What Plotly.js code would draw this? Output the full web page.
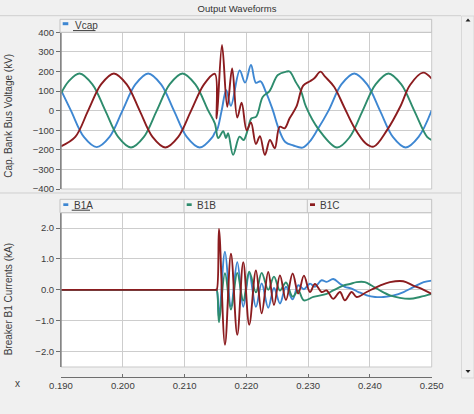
<!DOCTYPE html>
<html><head><meta charset="utf-8">
<script src="https://cdn.plot.ly/plotly-3.0.1.min.js"></script>
<style>html,body{margin:0;padding:0;background:#f0f0f0;overflow:hidden}#chart{width:474px;height:414px}</style>
</head><body><div id="chart"></div>
<script>
// ---------- data ----------
const xTickVals = [0.19, 0.20, 0.21, 0.22, 0.23, 0.24, 0.25];
const vTickVals = [-400, -300, -200, -100, 0, 100, 200, 300, 400];
const iTickVals = [-2, -1, 0, 1, 2];

// Cap. bank bus voltage (kV)
const tVcapA = [0.19000,0.19161,0.19370,0.19578,0.19786,0.19995,0.20203,0.20411,0.20620,0.20828,0.21036,0.21245,0.21453,0.21490,0.21530,0.21600,0.21675,0.21750,0.21892,0.21980,0.22075,0.22155,0.22230,0.22310,0.22420,0.22530,0.22630,0.22760,0.22910,0.23020,0.23150,0.23330,0.23538,0.23747,0.23955,0.24163,0.24371,0.24579,0.24788,0.25000];
const vcapA  = [105,0,-134,-186,-134,0,134,190,134,0,-134,-188,-134,-112,-95,0,105,25,205,143,233,142,150,100,10,-98,-160,-178,-189,-160,-98,0,134,190,134,0,-134,-188,-134,2];

const tVcapB = [0.19000,0.19130,0.19300,0.19508,0.19717,0.19925,0.20133,0.20342,0.20550,0.20758,0.20967,0.21175,0.21383,0.21490,0.21545,0.21625,0.21670,0.21705,0.21785,0.21890,0.21955,0.22025,0.22080,0.22160,0.22265,0.22375,0.22510,0.22645,0.22700,0.22805,0.22885,0.22965,0.23175,0.23467,0.23675,0.23883,0.24092,0.24300,0.24508,0.24717,0.24925,0.25000];
const vcapB  = [88,152,190,134,0,-134,-188,-134,0,134,190,134,0,-65,-140,-105,-140,-115,-226,-133,-150,-95,-40,-30,70,100,182,199,200,143,100,20,-98,-188,-134,0,134,190,134,0,-134,-150];

const tVcapC = [0.19000,0.19231,0.19439,0.19648,0.19856,0.20064,0.20273,0.20481,0.20689,0.20898,0.21106,0.21314,0.21490,0.21520,0.21606,0.21691,0.21770,0.21853,0.21924,0.22005,0.22074,0.22155,0.22220,0.22300,0.22382,0.22460,0.22540,0.22620,0.22700,0.22810,0.22920,0.23030,0.23100,0.23200,0.23270,0.23420,0.23580,0.23740,0.23930,0.24060,0.24280,0.24490,0.24650,0.24860,0.25000];
const vcapC  = [-182,-134,0,134,190,134,0,-134,-188,-134,0,134,188,-40,335,20,215,-35,40,-100,-60,-170,-130,-226,-150,-192,-82,-90,-39,20,128,150,165,199,175,122,20,-82,-166,-184,-98,20,131,194,163];

// Breaker B1 currents (kA)
const tB1A = [0.19000,0.21500,0.21520,0.21557,0.21654,0.21751,0.21853,0.21950,0.22047,0.22155,0.22248,0.22354,0.22447,0.22544,0.22641,0.22749,0.22840,0.22932,0.23029,0.23110,0.23218,0.23299,0.23406,0.23515,0.23595,0.23704,0.23815,0.23950,0.24085,0.24220,0.24385,0.24545,0.24705,0.24870,0.25000];
const b1A  = [0,0,0,-0.91,1.24,-0.54,0.90,-0.55,0.54,-0.55,0.21,-0.58,0.06,-0.44,0.10,-0.31,0.15,0.02,0.20,0.10,0.31,0.26,0.35,0.20,0.10,0.04,-0.07,-0.18,-0.23,-0.23,-0.18,-0.07,0.09,0.25,0.30];

const tB1B = [0.19000,0.21500,0.21520,0.21557,0.21654,0.21751,0.21853,0.21950,0.22047,0.22155,0.22248,0.22354,0.22447,0.22544,0.22641,0.22749,0.22840,0.22932,0.23085,0.23300,0.23406,0.23568,0.23676,0.23785,0.23919,0.24027,0.24162,0.24324,0.24485,0.24647,0.24809,0.25000];
const b1B  = [0,0,0,-1.05,0.54,-0.64,0.55,-0.35,0.59,-0.08,0.55,0.00,0.43,-0.02,0.24,-0.22,-0.03,-0.34,-0.23,-0.13,-0.02,0.14,0.19,0.25,0.25,0.14,-0.02,-0.18,-0.26,-0.29,-0.23,-0.13];

const tB1C = [0.19000,0.21500,0.21520,0.21557,0.21654,0.21751,0.21853,0.21950,0.22047,0.22155,0.22248,0.22354,0.22447,0.22544,0.22641,0.22749,0.22840,0.22932,0.23029,0.23110,0.23218,0.23299,0.23406,0.23515,0.23595,0.23704,0.23785,0.23947,0.24162,0.24324,0.24539,0.24701,0.24862,0.25000];
const b1C  = [0,0,0,1.97,-1.78,1.17,-1.46,0.90,-1.13,0.63,-0.76,0.58,-0.49,0.47,-0.33,0.53,-0.12,0.46,-0.07,0.19,-0.07,-0.02,-0.29,-0.07,-0.34,-0.07,-0.23,-0.07,0.14,0.25,0.28,0.14,0.01,-0.13];

// ---------- styling / layout ----------
const W = 474, H = 414;
const BLUE = '#3e87d2', GREEN = '#2e8c6d', RED = '#8b1c1f';
const GRID = '#cdcdcd', AXIS = '#6e6e6e', TXT = '#3c3c3c';
const FONT = 'Liberation Sans, Arial, sans-serif';
const PL = 61, PR = 431.7;              // plot left / right (px)
const TOP = [32.3, 189], BOT = [212.7, 367];
const px = x => x / W, py = y => 1 - y / H;

function rect(x0, y0, x1, y1, fill, line) {
  return {type:'rect', xref:'paper', yref:'paper', x0:px(x0), x1:px(x1), y0:py(y1), y1:py(y0),
          fillcolor:fill, line:{color:line || 'rgba(0,0,0,0)', width:1}, layer:'above'};
}
function seg(x0, y0, x1, y1, color) {
  return {type:'line', xref:'paper', yref:'paper', x0:px(x0), x1:px(x1), y0:py(y0), y1:py(y1),
          line:{color:color, width:1}, layer:'above'};
}
function tri(cx, cy, up) {
  const a = up ? -2 : 2;
  return {type:'path', xref:'paper', yref:'paper', layer:'above', fillcolor:'#222', line:{width:0},
    path:`M ${px(cx-2.5)} ${py(cy-a/2)} L ${px(cx+2.5)} ${py(cy-a/2)} L ${px(cx)} ${py(cy+a)} Z`};
}
function label(x, y, text, opts) {
  return Object.assign({xref:'paper', yref:'paper', x:px(x), y:py(y), text:text, showarrow:false,
    font:{family:FONT, size:10, color:TXT}, xanchor:'left', yanchor:'middle'}, opts || {});
}

function line(t, v, color, xa, ya) {
  return {x:t, y:v, type:'scatter', mode:'lines', xaxis:xa, yaxis:ya, hoverinfo:'skip',
          line:{color:color, width:1.9, shape:'spline', smoothing:1.0}};
}

const traces = [
  line(tVcapA, vcapA, BLUE, 'x', 'y'),
  line(tVcapB, vcapB, GREEN, 'x', 'y'),
  line(tVcapC, vcapC, RED, 'x', 'y'),
  line(tB1A, b1A, BLUE, 'x2', 'y2'),
  line(tB1B, b1B, GREEN, 'x2', 'y2'),
  line(tB1C, b1C, RED, 'x2', 'y2')
];

const tickFont = {family:FONT, size:9.5, color:TXT};
const layout = {
  width:W, height:H, margin:{l:0, r:0, t:0, b:0},
  paper_bgcolor:'#f0f0f0', plot_bgcolor:'#ffffff', showlegend:false,
  font:{family:FONT, color:TXT},
  title:{text:'Output Waveforms', x:237/W, xanchor:'center', y:py(8.5), yanchor:'middle',
         font:{family:FONT, size:9.5, color:'#333'}},
  xaxis:{domain:[px(PL), px(PR)], range:[0.19, 0.25], anchor:'y', tickvals:xTickVals,
         showticklabels:false, ticks:'', showgrid:true, gridcolor:GRID, zeroline:false, showline:false},
  yaxis:{domain:[py(TOP[1]), py(TOP[0])], range:[-400, 400], tickvals:vTickVals, ticks:'outside',
         ticklen:4, tickcolor:AXIS, showline:true, linecolor:AXIS, gridcolor:GRID, zeroline:false,
         tickfont:tickFont},
  xaxis2:{domain:[px(PL), px(PR)], range:[0.19, 0.25], anchor:'free', position:py(376.7),
          tickvals:xTickVals, tickformat:'.3f', ticks:'inside', ticklen:3, tickcolor:AXIS,
          showline:true, linecolor:AXIS, showgrid:true, gridcolor:GRID, zeroline:false, tickfont:tickFont},
  yaxis2:{domain:[py(BOT[1]), py(BOT[0])], range:[-2.5, 2.5], tickvals:iTickVals, tickformat:'.1f',
          ticks:'outside', ticklen:4, tickcolor:AXIS, showline:true, linecolor:AXIS, gridcolor:GRID,
          zeroline:false, tickfont:tickFont},
  shapes:[
    seg(0, 15.7, 461, 15.7, '#cfcfcf'),
    // plot borders
    rect(PL, TOP[0], PR, TOP[1], 'rgba(0,0,0,0)', '#c9c9c9'),
    rect(PL, BOT[0], PR, BOT[1], 'rgba(0,0,0,0)', '#c9c9c9'),
    seg(PL, TOP[0], PL, TOP[1], AXIS), seg(PL, BOT[0], PL, BOT[1], AXIS),
    // separator between panels
    seg(0, 193, 461, 193, '#cfcfcf'),
    // legend bars
    rect(PL - 1, 19.3, PR, 32.3, '#f4f4f4', '#c2c2c2'),
    rect(PL - 1, 199.3, PR, 212.7, '#f4f4f4', '#c2c2c2'),
    seg(184, 199.3, 184, 212.7, '#c2c2c2'), seg(307.3, 199.3, 307.3, 212.7, '#c2c2c2'),
    rect(62.7, 22.2, 68.3, 25.2, BLUE), rect(63.3, 203.3, 68.3, 206, BLUE),
    rect(186.7, 203.3, 191.7, 206, GREEN), rect(310, 203.3, 315, 206, RED),
    seg(73, 30.6, 95.5, 30.6, TXT), seg(71.7, 210.2, 90, 210.2, TXT),
    // scrollbar
    rect(461.5, 16, 474, 378, '#f0f0f0', '#d8d8d8'),
    tri(468, 20.5, true), tri(468, 371, false)
  ],
  annotations:[
    label(73, 25.6, 'Vcap'),
    label(71.5, 205.6, 'B1A'),
    label(195, 205.6, 'B1B'),
    label(318.3, 205.6, 'B1C'),
    label(8.3, 115.5, 'Cap. Bank Bus Voltage (kV)', {textangle:-90, xanchor:'center', yanchor:'middle'}),
    label(8.3, 299, 'Breaker B1 Currents (kA)', {textangle:-90, xanchor:'center', yanchor:'middle'}),
    label(17.5, 383.7, 'x', {xanchor:'center'})
  ]
};

Plotly.newPlot('chart', traces, layout, {staticPlot:true, displayModeBar:false});
</script>
</body></html>
